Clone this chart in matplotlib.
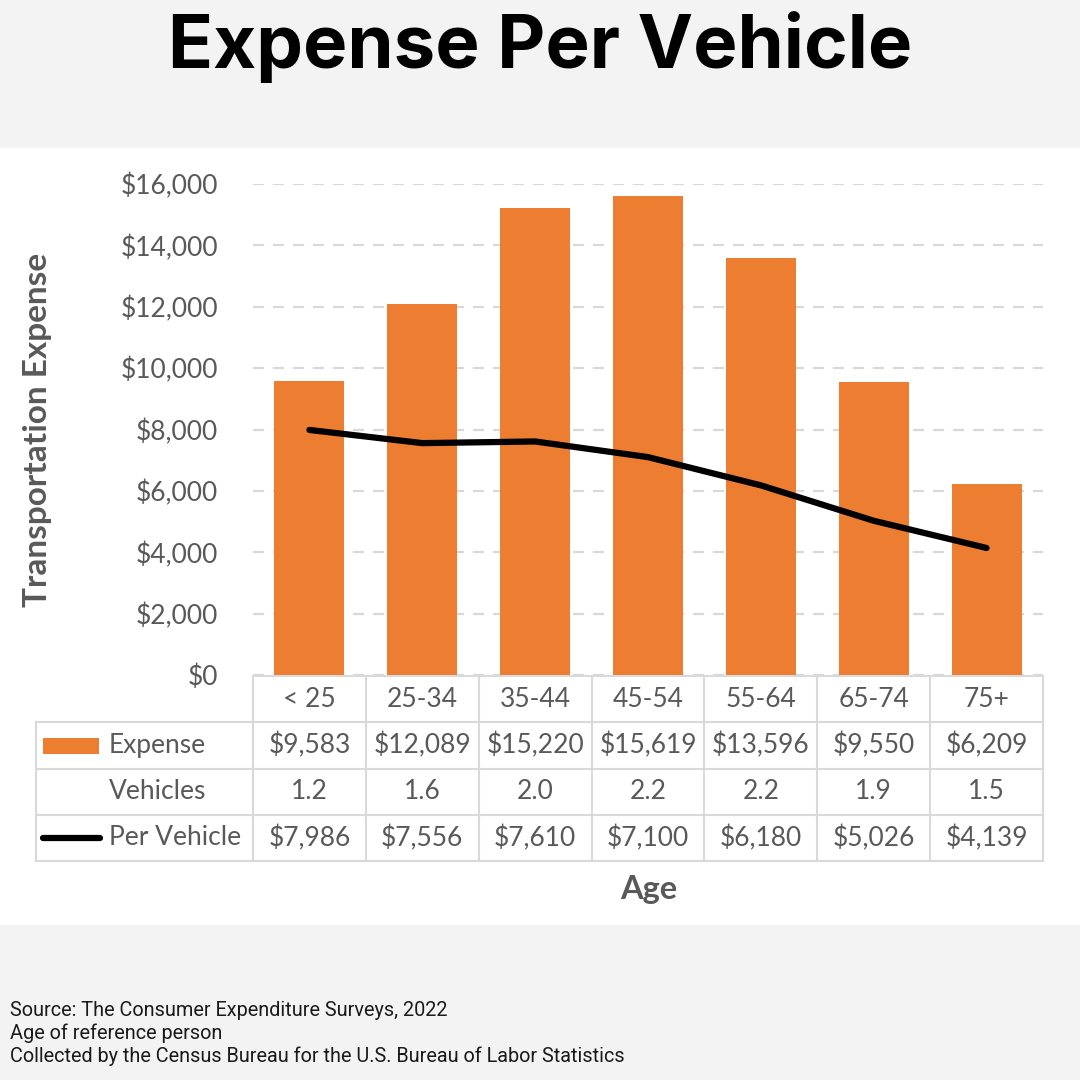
import matplotlib.pyplot as plt
from matplotlib.patches import Rectangle

# Daten aus der Grafik
ages = ['< 25', '25-34', '35-44', '45-54', '55-64', '65-74', '75+']
expense = [9583, 12089, 15220, 15619, 13596, 9550, 6209]
vehicles = [1.2, 1.6, 2.0, 2.2, 2.2, 1.9, 1.5]
per_vehicle = [7986, 7556, 7610, 7100, 6180, 5026, 4139]
y_ticks = list(range(0, 16001, 2000))
source_lines = ['Source: The Consumer Expenditure Surveys, 2022',
                'Age of reference person',
                'Collected by the Census Bureau for the U.S. Bureau of Labor Statistics']

ORANGE = '#ED7D31'
GREY = '#595959'
BORDER = '#d9d9d9'
FONT = 'Lato'
W = H = 1080

fig = plt.figure(figsize=(10.8, 10.8), dpi=100)
fig.patch.set_facecolor('#f3f3f3')
# weisse Flaeche hinter dem Diagramm
fig.add_artist(Rectangle((0, 1 - 925 / H), 1, (925 - 148) / H, transform=fig.transFigure,
                         facecolor='white', edgecolor='none', zorder=0))

fig.text(0.5, 1 - 47 / H, 'Expense Per Vehicle', ha='center', va='center',
         fontsize=53.5, fontweight='bold', family='Inter', color='black')

# Hauptdiagramm
ax = fig.add_axes([253 / W, 1 - 675 / H, 790 / W, 491 / H])
ax.set_facecolor('none')
x = list(range(len(ages)))
ax.bar(x, expense, width=0.62, color=ORANGE, zorder=2)
ax.plot(x, per_vehicle, color='black', lw=4.5, solid_capstyle='round', zorder=3)
ax.set_xlim(-0.5, 6.5)
ax.set_ylim(0, 16000)
ax.set_yticks(y_ticks)
ax.set_yticklabels([f'${v:,}' for v in y_ticks], family=FONT, fontsize=19, color=GREY)
ax.set_xticks([])
ax.yaxis.grid(True, color=BORDER, linestyle=(0, (5, 4)), lw=1.6)
ax.set_axisbelow(True)
ax.tick_params(axis='y', length=0, pad=25)
for s in ax.spines.values():
    s.set_visible(False)

fig.text(38 / W, 1 - 430 / H, 'Transportation Expense', rotation=90, ha='center', va='center',
         family=FONT, fontweight='bold', fontsize=24, color=GREY)

# Datentabelle unter dem Diagramm
tax = fig.add_axes([36 / W, 1 - 861 / H, 1007 / W, 185 / H])
col_px = 790 / 7
lab_w = 217 / col_px
left = -0.5 - lab_w
tax.set_xlim(left, 6.5)
tax.set_ylim(0, 4)
tax.axis('off')

lw = 1.5
tax.plot([-0.5, 6.5], [4, 4], color=BORDER, lw=lw, clip_on=False)
for yy in range(4):
    tax.plot([left, 6.5], [yy, yy], color=BORDER, lw=lw, clip_on=False)
for i in range(8):
    tax.plot([-0.5 + i, -0.5 + i], [0, 4], color=BORDER, lw=lw, clip_on=False)
tax.plot([left, left], [0, 3], color=BORDER, lw=lw, clip_on=False)

tkw = dict(ha='center', va='center', family=FONT, fontsize=19, color=GREY)
for i in x:
    tax.text(i, 3.5, ages[i], **tkw)
    tax.text(i, 2.5, f'${expense[i]:,}', **tkw)
    tax.text(i, 1.5, f'{vehicles[i]:.1f}', **tkw)
    tax.text(i, 0.5, f'${per_vehicle[i]:,}', **tkw)

lx = left + 73 / col_px
lkw = dict(ha='left', va='center', family=FONT, fontsize=19, color=GREY)
tax.text(lx, 2.5, 'Expense', **lkw)
tax.text(lx, 1.5, 'Vehicles', **lkw)
tax.text(lx, 0.5, 'Per Vehicle', **lkw)
tax.add_patch(Rectangle((left + 7 / col_px, 2.5 - 0.18), 56 / col_px, 0.34,
                        facecolor=ORANGE, edgecolor='none'))
tax.plot([left + 7 / col_px, left + 64 / col_px], [0.5, 0.5], color='black', lw=4.5,
         solid_capstyle='round')

fig.text(649 / W, 1 - 890 / H, 'Age', ha='center', va='center', family=FONT,
         fontweight='bold', fontsize=23.5, color=GREY)

# Quellenangabe
for k, line in enumerate(source_lines):
    fig.text(10 / W, 1 - (1010 + 23 * k) / H, line, ha='left', va='center',
             family='Roboto', fontsize=14.3, color='#1a1a1a')

fig.savefig('out.png', dpi=100, facecolor=fig.get_facecolor())
